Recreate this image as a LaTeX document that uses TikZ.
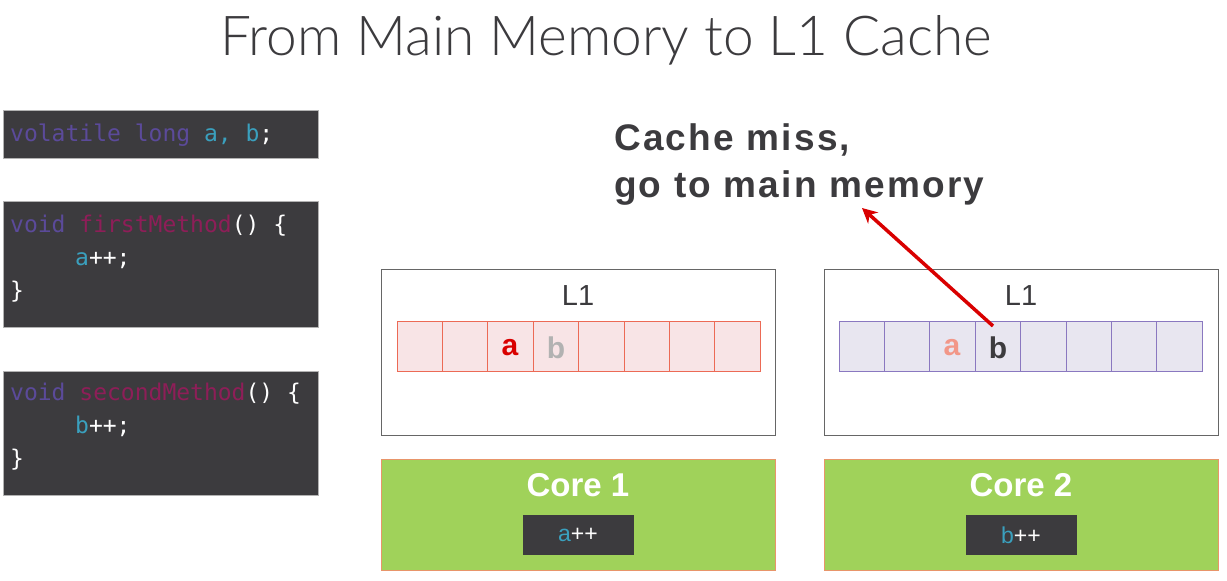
\documentclass[tikz,border=0pt]{standalone}
\usepackage{fontspec}
\setmainfont{Liberation Sans}
\newfontfamily\codefont{DejaVu Sans Mono}
\newfontfamily\lightfont{Lato Light}
\newfontfamily\widebold[LetterSpace=6]{Liberation Sans Bold}
\usetikzlibrary{arrows.meta}
\definecolor{codebg}{HTML}{3C3B3E}
\definecolor{kw}{HTML}{5B4A9A}
\definecolor{fn}{HTML}{8E1E58}
\definecolor{var}{HTML}{3AA0BE}
\definecolor{coregreen}{HTML}{A0D25A}
\definecolor{coreedge}{HTML}{E8956A}
\definecolor{redcell}{HTML}{F8E4E6}
\definecolor{rededge}{HTML}{EC6A55}
\definecolor{bluecell}{HTML}{E8E6F0}
\definecolor{blueedge}{HTML}{8A78C0}
\definecolor{txt}{HTML}{3C3B3E}
\tikzset{x=1pt,y=-1pt,
 codebox/.style={fill=codebg,draw=gray!60,line width=0.8pt},
 codetext/.style={anchor=base west,inner sep=0pt,font=\codefont\fontsize{23}{23}\selectfont,text=white},
 l1box/.style={draw=gray!80!black,line width=1pt,fill=white},
 corebox/.style={fill=coregreen,draw=coreedge,line width=1pt},
 opbox/.style={fill=codebg,minimum width=111pt,minimum height=40pt,inner sep=0pt,font=\fontsize{23}{23}\selectfont,text=white},
 lbl/.style={font=\fontsize{29}{29}\selectfont,text=txt,inner sep=0pt},
 corelbl/.style={font=\bfseries\fontsize{33}{33}\selectfont,text=white,inner sep=0pt},
 cellt/.style={font=\bfseries\fontsize{30}{30}\selectfont,inner sep=0pt}}
\begin{document}
\begin{tikzpicture}
\path[use as bounding box,fill=white] (0,0) rectangle (1227,581);
\node[font=\lightfont\fontsize{55}{55}\selectfont,text=txt,inner sep=0pt] (title) at (606,40) {From Main Memory to L1 Cache};
% code
\fill[codebox] (3,110) rectangle (318,158);
\node[codetext] (c1) at (10,141) {\textcolor{kw}{volatile long} \textcolor{var}{a, b};};
\fill[codebox] (3,201) rectangle (318,327);
\node[codetext] (c2) at (10,232) {\textcolor{kw}{void} \textcolor{fn}{firstMethod}() \{};
\node[codetext] (c3) at (75,265) {\textcolor{var}{a}++;};
\node[codetext] (c4) at (10,298) {\}};
\fill[codebox] (3,371) rectangle (318,495);
\node[codetext] (c5) at (10,400) {\textcolor{kw}{void} \textcolor{fn}{secondMethod}() \{};
\node[codetext] (c6) at (75,433) {\textcolor{var}{b}++;};
\node[codetext] (c7) at (10,466) {\}};
% L1 boxes
\draw[l1box] (381,269) rectangle (775,435);
\draw[l1box] (824,269) rectangle (1218,435);
\node[lbl] (l1a) at (578,296) {L1};
\node[lbl] (l1b) at (1021,296) {L1};
\foreach \i in {0,...,7}{
 \draw[fill=redcell,draw=rededge,line width=0.8pt] ({397+\i*45.4},321) rectangle ({397+(\i+1)*45.4},371);
 \draw[fill=bluecell,draw=blueedge,line width=0.8pt] ({839+\i*45.4},321) rectangle ({839+(\i+1)*45.4},371);
}
\node[cellt,text=red!85!black] (ra) at (510,348) {a};
\node[cellt,text=gray!60] (rb) at (556,348) {b};
\node[cellt,text=rededge!70] (ba) at (952,348) {a};
\node[cellt,text=txt] (bb) at (998,348) {b};
% cores
\draw[corebox] (381,459) rectangle (775,570);
\draw[corebox] (824,459) rectangle (1218,570);
\node[corelbl] (core1) at (578,485) {Core 1};
\node[corelbl] (core2) at (1021,485) {Core 2};
\node[opbox] (op1) at (578,535) {\textcolor{var}{a}++};
\node[opbox] (op2) at (1021,535) {\textcolor{var}{b}++};
% miss
\node[font=\widebold\fontsize{37}{47}\selectfont,text=txt,align=left,anchor=north west,inner sep=0pt] (miss) at (614,123) {Cache miss,\\go to main memory};
\coordinate (from) at (993,326);
\coordinate (to) at (862,208);
\draw[red!85!black,line width=3.5pt,-{Stealth[length=15pt,width=15pt]}] (from) -- (to);
\end{tikzpicture}
\end{document}
